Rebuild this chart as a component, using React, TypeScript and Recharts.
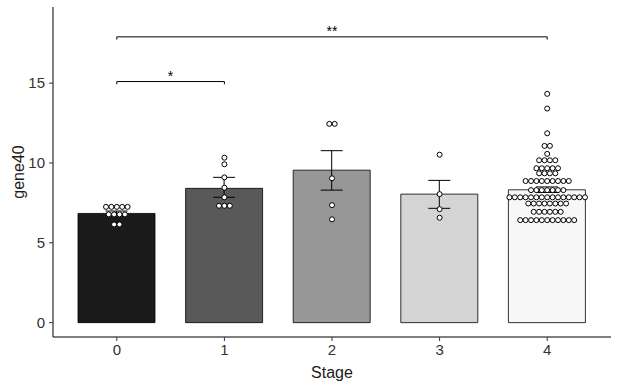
import {
  Bar,
  Cell,
  ComposedChart,
  ErrorBar,
  ReferenceLine,
  Scatter,
  XAxis,
  YAxis,
} from "recharts";

const stages = ["0", "1", "2", "3", "4"];
const meanValues = [6.84, 8.41, 9.55, 8.05, 8.32];
const seLow = [6.67, 7.85, 8.3, 7.16, 8.15];
const seHigh = [6.99, 9.1, 10.77, 8.91, 8.5];
const barFills = ["#1A1A1A", "#595959", "#979797", "#D4D4D4", "#F7F7F7"];

// [value, number of dots stacked side by side]
const stage0Dots: [number, number][] = [[7.25, 5], [6.78, 4], [6.15, 2]];
const stage1Dots: [number, number][] = [[10.33, 1], [9.92, 1], [9.1, 1], [8.45, 1], [7.85, 1], [7.32, 3]];
const stage2Dots: [number, number][] = [[12.45, 2], [9.04, 1], [7.36, 1], [6.47, 1]];
const stage3Dots: [number, number][] = [[10.52, 1], [8.05, 1], [7.11, 1], [6.57, 1]];
const stage4Dots: [number, number][] = [
  [14.33, 1], [13.41, 1], [11.86, 1], [11.07, 2], [10.57, 1], [10.17, 4], [9.67, 5],
  [9.35, 4], [8.87, 9], [8.3, 7], [7.85, 15], [7.46, 8], [6.94, 6], [6.42, 11],
];
const dotsByStage = [stage0Dots, stage1Dots, stage2Dots, stage3Dots, stage4Dots];

const brackets = [
  { from: "0", to: "1", y: 15.1, label: "*" },
  { from: "0", to: "4", y: 17.9, label: "**" },
];

const yTicks = [0, 5, 10, 15];
const DOT_STEP = 5.4;

const barData = stages.map((stage, i) => ({
  stage,
  mean: meanValues[i],
  err: [meanValues[i] - seLow[i], seHigh[i] - meanValues[i]],
}));

const dotData = stages.flatMap((stage, i) =>
  dotsByStage[i].flatMap(([value, n]) =>
    Array.from({ length: n }, (_, k) => ({ stage, value, k: k - (n - 1) / 2 }))
  )
);

const Dot = (props: any) => (
  <circle
    cx={props.cx + props.payload.k * DOT_STEP}
    cy={props.cy}
    r={2.5}
    fill="#fff"
    stroke="#000"
    strokeWidth={1}
  />
);

const YTitle = (props: any) => {
  const { viewBox } = props;
  const x = viewBox.x + 18;
  const y = viewBox.y + viewBox.height / 2;
  return (
    <text x={x} y={y} transform={`rotate(-90 ${x} ${y})`} textAnchor="middle" dominantBaseline="central" fontSize={16} fill="#1a1a1a">
      gene40
    </text>
  );
};

const XTitle = (props: any) => {
  const { viewBox } = props;
  return (
    <text x={viewBox.x + viewBox.width / 2} y={viewBox.y + 41} textAnchor="middle" fontSize={16} fill="#1a1a1a">
      Stage
    </text>
  );
};

const xAxisShared = {
  dataKey: "stage",
  type: "category" as const,
  allowDuplicatedCategory: false,
  padding: { left: 10, right: 10 },
  height: 51,
};

export default function App() {
  return (
    <div style={{ position: "fixed", left: 0, top: 0, width: 620, height: 388, background: "#fff" }}>
      <ComposedChart
        width={620}
        height={388}
        data={barData}
        margin={{ top: 7, right: 9, left: 0, bottom: 0 }}
        style={{ fontFamily: "'Liberation Sans', Arial, sans-serif" }}
      >
        <XAxis
          {...xAxisShared}
          axisLine={{ stroke: "#000", strokeWidth: 1 }}
          tickLine={{ stroke: "#333" }}
          tickSize={4}
          tickMargin={3}
          tick={{ fontSize: 15, fill: "#333" }}
          label={<XTitle />}
        />
        <XAxis {...xAxisShared} xAxisId="err" hide />
        <YAxis
          type="number"
          domain={[-0.9, 19.77]}
          ticks={yTicks}
          allowDataOverflow
          width={53}
          axisLine={{ stroke: "#000", strokeWidth: 1 }}
          tickLine={{ stroke: "#333" }}
          tickSize={4}
          tickMargin={4}
          tick={{ fontSize: 15, fill: "#333" }}
          label={<YTitle />}
        />
        <Bar dataKey="mean" barSize={77} stroke="#000" strokeWidth={0.8} isAnimationActive={false}>
          {barData.map((d, i) => (
            <Cell key={d.stage} fill={barFills[i]} />
          ))}
        </Bar>
        <Scatter data={dotData} dataKey="value" shape={Dot} isAnimationActive={false} />
        <Bar xAxisId="err" dataKey="mean" barSize={77} fill="none" stroke="none" isAnimationActive={false}>
          <ErrorBar dataKey="err" width={11} stroke="#000" strokeWidth={1} direction="y" />
        </Bar>
        {brackets.map((b) => (
          <ReferenceLine
            key={`h-${b.label}`}
            segment={[{ x: b.from, y: b.y }, { x: b.to, y: b.y }]}
            stroke="#000"
            strokeWidth={1}
            label={{ value: b.label, position: "top", offset: 1, fontSize: 14, fill: "#000" }}
          />
        ))}
        {brackets.flatMap((b) =>
          [b.from, b.to].map((x) => (
            <ReferenceLine
              key={`v-${b.label}-${x}`}
              segment={[{ x, y: b.y }, { x, y: b.y - 0.17 }]}
              stroke="#000"
              strokeWidth={1}
            />
          ))
        )}
      </ComposedChart>
    </div>
  );
}
